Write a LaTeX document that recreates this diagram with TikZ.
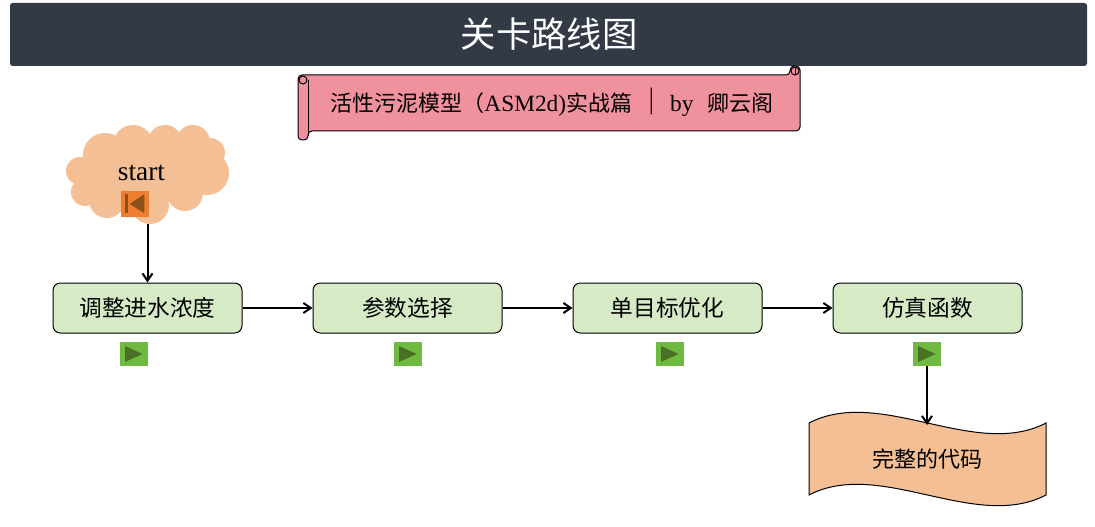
\documentclass[tikz,border=0pt]{standalone}
\usepackage{fontspec}
\setmainfont{Liberation Serif}
\newfontfamily\cjk{Noto Sans CJK SC}
\usetikzlibrary{positioning,arrows.meta}
\definecolor{bannerdark}{HTML}{323A45}
\definecolor{scrollpink}{HTML}{F0919E}
\definecolor{cloudpeach}{HTML}{F4BF95}
\definecolor{boxgreen}{HTML}{D5EAC5}
\definecolor{playgreen}{HTML}{6FBA40}
\definecolor{playdark}{HTML}{4A7025}
\definecolor{backorange}{HTML}{ED7D31}
\definecolor{backdark}{HTML}{8B4F1C}
\tikzset{
  green box/.style={
    fill=boxgreen,
    draw=black,
    rounded corners=5.5pt,
    line width=0.75pt,
    minimum width=141.75pt,
    minimum height=37.5pt,
    font=\cjk\fontsize{17}{20}\selectfont,
  },
  flow/.style={
    -{Straight Barb[length=5.5pt,width=7.5pt]},
    line width=1.5pt,
  },
  play button/.style={
    fill=playgreen,
    minimum width=21pt,
    minimum height=18pt,
    inner sep=0pt,
    path picture={
      \fill [playdark] ([xshift=3.75pt,yshift=3pt]path picture bounding box.south west)
        -- ([xshift=3.75pt,yshift=-3pt]path picture bounding box.north west)
        -- ([xshift=-4pt]path picture bounding box.east) -- cycle;
    },
  },
  back button/.style={
    fill=backorange,
    minimum width=21pt,
    minimum height=19.5pt,
    inner sep=0pt,
    path picture={
      \fill [backdark] ([xshift=-3.5pt,yshift=3pt]path picture bounding box.south east)
        -- ([xshift=-3.5pt,yshift=-2.5pt]path picture bounding box.north east)
        -- ([xshift=6.5pt]path picture bounding box.west) -- cycle;
      \fill [backdark] ([xshift=3.2pt,yshift=3pt]path picture bounding box.south west)
        rectangle ([xshift=5pt,yshift=-2.5pt]path picture bounding box.north west);
    },
  },
}

\begin{document}
\begin{tikzpicture}[x=0.75pt,y=-0.75pt,node distance=52.5pt]
        \useasboundingbox (0,0) rectangle (1095,527);

        % title bar
        \fill [bannerdark, rounded corners=2pt] (10,3) rectangle (1087,66);
        \node [text=white, font=\cjk\fontsize{26.5}{30}\selectfont] (title) at (549,34) {关卡路线图};

        % scroll
        \filldraw [fill=scrollpink, draw=black, line width=0.75pt, rounded corners=3pt]
          (298,82) -- (298,75) -- (790,75) -- (790,66) -- (800,66) -- (800,131) -- (308,131)
          -- (308,140) -- (298,140) -- cycle;
        \draw [line width=0.75pt] (308,80) -- (308,136);
        \draw [line width=0.75pt] (303,80) circle [radius=4];
        \draw [line width=0.75pt] (795,71) circle [radius=4];
        \draw [line width=0.75pt] (795,67) -- (795,75);
        \node [font=\fontsize{17.5}{20}\selectfont] (scrolltext) at (552,102)
          {{\cjk\fontsize{16.5}{20}\selectfont 活性污泥模型（}ASM2d){\cjk\fontsize{16.5}{20}\selectfont 实战篇}\hspace{5pt}{\cjk\bfseries\fontsize{20}{20}\selectfont ｜}\hspace{3.5pt}by\hspace{10.5pt}{\cjk\fontsize{16.5}{20}\selectfont 卿云阁}};

        % start cloud
        \fill [cloudpeach]
          (80,171) circle [radius=14] (105,155) circle [radius=22]
          (133,145) circle [radius=20] (165,142) circle [radius=17]
          (193,142) circle [radius=17] (210,153) circle [radius=15]
          (207,173) circle [radius=22] (185,193) circle [radius=18]
          (150,205) circle [radius=19] (107,200) circle [radius=18]
          (85,192) circle [radius=14];
        \fill [cloudpeach] (90,150) rectangle (200,200);
        \coordinate (cloud bottom) at (147.5,224);
        \node [font=\fontsize{20.5}{24}\selectfont] (start) at (141.5,173) {start};
        \node [back button] (start button) at (135,204) {};

        % level boxes
        \node [green box] (b1) at (147.5,308) {调整进水浓度};
        \node [green box, right=of b1] (b2) {参数选择};
        \node [green box, right=of b2] (b3) {单目标优化};
        \node [green box, right=of b3] (b4) {仿真函数};

        \node [play button] (p1) at (134,354) {};
        \node [play button] (p2) at (408,354) {};
        \node [play button] (p3) at (670,354) {};
        \node [play button] (p4) at (927,354) {};

        % code sheet
        \filldraw [fill=cloudpeach, draw=black, line width=0.75pt]
          (809,423) .. controls (880,386) and (975,460) .. (1046,423)
          -- (1046,495) .. controls (975,532) and (880,458) .. (809,495) -- cycle;
        \node [font=\cjk\fontsize{16.5}{20}\selectfont] (code) at (927,459) {完整的代码};
        \coordinate (code top) at (927,425);

        \draw [flow] (cloud bottom) -- (b1);
        \draw [flow] (b1) -- (b2);
        \draw [flow] (b2) -- (b3);
        \draw [flow] (b3) -- (b4);
        \draw [flow] (p4) -- (code top);
      \end{tikzpicture}
\end{document}
